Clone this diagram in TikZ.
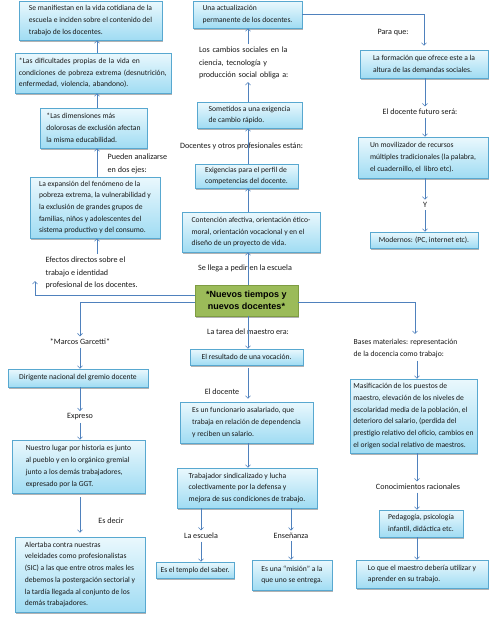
\documentclass[tikz,border=0pt]{standalone}
\usepackage{fontspec}
\setmainfont{Carlito}
\newfontfamily\arialb{Liberation Sans}
\usetikzlibrary{arrows.meta,shadows}
\definecolor{arrc}{RGB}{79,129,189}
\definecolor{bxtop}{RGB}{234,248,253}
\definecolor{bxbot}{RGB}{160,220,243}
\definecolor{bxline}{RGB}{88,168,208}
\definecolor{grn}{RGB}{155,187,89}
\definecolor{grnline}{RGB}{126,156,66}
\tikzset{
 bx/.style={draw=bxline, line width=0.5pt, top color=bxtop, bottom color=bxbot, inner xsep=3pt, inner ysep=2pt, align=left, font=\fontsize{7.6}{11.7}\selectfont, text=black!90, drop shadow={shadow xshift=1.2pt, shadow yshift=-1.6pt, fill=black, opacity=0.3}},
 lbl/.style={font=\fontsize{8.1}{12.8}\selectfont, text=black!90, inner sep=2.5pt, align=left},
 arr/.style={draw=arrc, line width=0.6pt, -{Straight Barb[length=2.6pt,width=5pt]}},
}
\begin{document}
\begin{tikzpicture}[x=1pt,y=-1pt]
\useasboundingbox (0,0) rectangle (495,640);
\fill[white] (0,0) rectangle (495,640);
% left column
\node[bx, minimum width=143pt, minimum height=39pt] (A) at (90.5,20.5) {Se manifiestan en la vida cotidiana de la\\escuela e inciden sobre el contenido del\\trabajo de los docentes.};
\node[bx, inner xsep=4pt, text width=148pt, minimum height=40pt] (B) at (93,73) {\makebox[\hsize][s]{*Las dificultades propias de la vida en}\\\makebox[\hsize][s]{condiciones de pobreza extrema (desnutrición,}\\enfermedad, violencia, abandono).};
\node[bx, minimum width=107pt, minimum height=40pt] (C) at (93.5,128) {*Las dimensiones más\\dolorosas de exclusión afectan\\la misma educabilidad.};
\node[lbl, anchor=west] (l1) at (105,163.5) {Pueden analizarse\\en dos ejes:};
\node[bx, minimum width=130pt, minimum height=61pt] (D) at (95,207.5) {La expansión del fenómeno de la\\pobreza extrema, la vulnerabilidad y\\la exclusión de grandes grupos de\\familias, niños y adolescentes del\\sistema productivo y del consumo.};
\node[lbl, anchor=west] (l2) at (43,273) {Efectos directos sobre el\\trabajo e identidad\\profesional de los docentes.};
% centre column top
\node[bx, minimum width=109pt, minimum height=27pt] (E) at (247.5,14.5) {Una actualización\\permanente de los docentes.};
\node[lbl, text width=108pt] (l3) at (253,63) {\makebox[\hsize][s]{Los cambios sociales en la}\\\makebox[\hsize][s]{ciencia, tecnología y}\\\makebox[\hsize][s]{producción social obliga a:}};
\node[bx, minimum width=105pt, minimum height=26pt] (F) at (249.5,115) {Sometidos a una exigencia\\de cambio rápido.};
\node[lbl] (l4) at (241.5,146) {Docentes y otros profesionales están:};
\node[bx, minimum width=103pt, minimum height=24pt] (G) at (246.5,176) {Exigencias para el perfil de\\competencias del docente.};
\node[bx, minimum width=138pt, minimum height=40pt] (H) at (251,232) {Contención afectiva, orientación ético-\\moral, orientación vocacional y en el\\diseño de un proyecto de vida.};
\node[lbl] (l5) at (245,268) {Se llega a pedir en la escuela};
\node[draw=grnline, line width=0.5pt, fill=grn, font=\arialb\bfseries\fontsize{9}{12}\selectfont, align=center, minimum width=103pt, minimum height=31pt, inner sep=1pt, drop shadow={shadow xshift=1.2pt, shadow yshift=-1.6pt, fill=black, opacity=0.3}] (Z) at (246.5,300.5) {*Nuevos tiempos y\\nuevos docentes*};
% right column top
\node[lbl] (l6) at (393,33) {Para que:};
\node[bx, minimum width=128pt, minimum height=28pt] (I) at (424,64) {La formación que ofrece este a la\\altura de las demandas sociales.};
\node[lbl] (l7) at (420,112) {El docente futuro será:};
\node[bx, minimum width=130pt, minimum height=41pt] (J) at (423,157.5) {Un movilizador de recursos\\múltiples tradicionales (la palabra,\\el cuadernillo, el~ libro etc).};
\node[lbl] (l8) at (425,205) {Y};
\node[bx, minimum width=108pt, minimum height=16pt, align=center] (K) at (424,240) {Modernos: (PC, internet etc).};
% lower left
\node[lbl] (l9) at (80,342) {*Marcos Garcetti*};
\node[bx, minimum width=140pt, minimum height=18pt, align=center] (L) at (78,378) {Dirigente nacional del gremio docente};
\node[lbl] (l10) at (80,417) {Expreso};
\node[bx, minimum width=133pt, minimum height=53pt] (M) at (78.5,466.5) {Nuestro lugar por historia es junto\\al pueblo y en lo orgánico gremial\\junto a los demás trabajadores,\\expresado por la GGT.};
\node[lbl] (l11) at (111,521) {Es decir};
\node[bx, minimum width=130pt, minimum height=75pt] (N) at (80,574.5) {Alertaba contra nuestras\\veleidades como profesionalistas\\(SIC) a las que entre otros males les\\debemos la postergación sectorial y\\la tardía llegada al conjunto de los\\demás trabajadores.};
% lower centre
\node[lbl] (l12) at (248,332) {La tarea del maestro era:};
\node[bx, minimum width=113pt, minimum height=16pt] (O) at (246.5,357) {El resultado de una vocación.};
\node[lbl] (l13) at (222,392) {El docente};
\node[bx, minimum width=133pt, minimum height=41pt] (P) at (246.5,422.5) {Es un funcionario asalariado, que\\trabaja en relación de dependencia\\y reciben un salario.};
\node[bx, minimum width=140pt, minimum height=40pt] (Q) at (247,488) {Trabajador sindicalizado y lucha\\colectivamente por la defensa y\\mejora de sus condiciones de trabajo.};
\node[lbl] (l14) at (201,536) {La escuela};
\node[lbl] (l15) at (291,536) {Enseñanza};
\node[bx, minimum width=78pt, minimum height=16pt, align=center] (R) at (195,570) {Es el templo del saber.};
\node[bx, minimum width=80pt, minimum height=30pt, align=center] (S) at (292,575) {Es una “misión” a la\\que uno se entrega.};
% lower right
\node[lbl, anchor=west, font=\fontsize{7.7}{12.8}\selectfont] (l16) at (351,348.5) {Bases materiales: representación\\de la docencia como trabajo:};
\node[bx, minimum width=127pt, minimum height=74pt, inner xsep=2.5pt] (T) at (413.5,416) {Masificación de los puestos de\\maestro, elevación de los niveles de\\escolaridad media de la población, el\\deterioro del salario, (perdida del\\prestigio relativo del oficio, cambios en\\el origen social relativo de maestros.};
\node[lbl] (l17) at (418,487) {Conocimientos racionales};
\node[bx, minimum width=84pt, minimum height=27pt, align=center] (U) at (421,523.5) {Pedagogía, psicología\\infantil, didáctica etc.};
\node[bx, minimum width=132pt, minimum height=28pt] (V) at (422,574) {Lo que el maestro debería utilizar y\\aprender en su trabajo.};
% connectors
\coordinate (ax) at (97,0);
\coordinate (bxx) at (80,0);
\coordinate (cx) at (248,0);
\coordinate (rx) at (425,0);
\coordinate (tx) at (417,0);
\coordinate (qa) at (201,0);
\coordinate (qb) at (291,0);
\coordinate (e1) at (35,281);
\coordinate (e2) at (415,334);
\draw[arr] (B.north -| ax) -- (A.south -| ax);
\draw[arr] (C.north -| ax) -- (B.south -| ax);
\draw[arr] (D.north -| ax) -- (C.south -| ax);
\draw[arr] (l2.north -| ax) -- (D.south -| ax);
\draw[arr] ([yshift=5.5pt]Z.west) -| (e1);
\draw[arr] ([yshift=-1.5pt]Z.west) -| (l9.north);
\draw[arr] ([yshift=-1.5pt]Z.east) -| (e2);
\draw[arr] (l9.south -| bxx) -- (L.north -| bxx);
\draw[arr] (L.south -| bxx) -- (l10.north -| bxx);
\draw[arr] (l10.south -| bxx) -- (M.north -| bxx);
\draw[arr, shorten <=4pt, shorten >=4pt] (M.south -| bxx) -- (N.north -| bxx);
\draw[arr] (Z.north -| cx) -- (H.south -| cx);
\draw[arr] (H.north -| cx) -- (G.south -| cx);
\draw[arr] (G.north -| cx) -- (F.south -| cx);
\draw[arr] (F.north -| cx) -- (l3.south -| cx);
\draw[arr] (l3.north -| cx) -- (E.south -| cx);
\draw[arr, shorten >=4pt] (E.east) -| (I.north);
\draw[arr] (I.south -| rx) -- (l7.north -| rx);
\draw[arr] (l7.south -| rx) -- (J.north -| rx);
\draw[arr] (J.south -| rx) -- (l8.north -| rx);
\draw[arr] (l8.south -| rx) -- (K.north -| rx);
\draw[arr] (Z.south -| cx) -- (O.north -| cx);
\draw[arr, shorten <=3pt, shorten >=3pt] (O.south -| cx) -- (P.north -| cx);
\draw[arr] (P.south -| cx) -- (Q.north -| cx);
\draw[arr] (Q.south -| qa) -- (l14.north -| qa);
\draw[arr] (l14.south -| qa) -- (R.north -| qa);
\draw[arr] (Q.south -| qb) -- (l15.north -| qb);
\draw[arr] (l15.south -| qb) -- (S.north -| qb);
\draw[arr] (l16.south -| tx) -- (T.north -| tx);
\draw[arr] (T.south -| tx) -- (l17.north -| tx);
\draw[arr] (l17.south -| tx) -- (U.north -| tx);
\draw[arr] (U.south -| tx) -- (V.north -| tx);
\end{tikzpicture}
\end{document}
